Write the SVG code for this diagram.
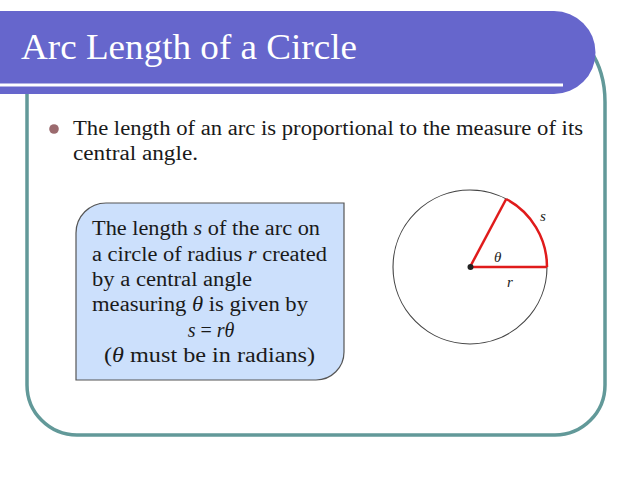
<svg xmlns="http://www.w3.org/2000/svg" width="638" height="478" viewBox="0 0 638 478">
<style>
.txt{font-family:"Liberation Serif","Times New Roman",serif;fill:#1a1a1a;}
.it{font-style:italic;}
.lbl{font-family:"Liberation Serif","Times New Roman",serif;font-style:italic;fill:#222;font-size:15px;}
</style>
<rect width="638" height="478" fill="#ffffff"/>
<g id="frame">
<path d="M 27 60 L 27 385 A 50 50 0 0 0 77 435 L 555 435 A 50 50 0 0 0 605 385 L 605 102 C 605 82 601 66 590 50" fill="none" stroke="#629999" stroke-width="3.5"/>
</g>
<g id="title-bar">
<path d="M 0 11 L 554 11 A 41.5 41.5 0 0 1 554 94 L 0 94 Z" fill="#6666CC"/>
<line x1="0" y1="85" x2="563" y2="85" stroke="#ffffff" stroke-width="3"/>
<text x="21" y="59" font-family="'Liberation Serif','Times New Roman',serif" font-size="35" fill="#ffffff" textLength="336" lengthAdjust="spacingAndGlyphs">Arc Length of a Circle</text>
</g>
<g id="bullet">
<circle cx="54" cy="129" r="4.8" fill="#9B6A6E"/>
<text class="txt" x="73" y="135" font-size="20" textLength="510" lengthAdjust="spacingAndGlyphs">The length of an arc is proportional to the measure of its</text>
<text class="txt" x="73" y="160" font-size="20" textLength="125" lengthAdjust="spacingAndGlyphs">central angle.</text>
</g>
<g id="formula-box">
<path d="M 106 203 L 344 203 L 344 352 A 28 28 0 0 1 316 380 L 76 380 L 76 233 A 30 30 0 0 1 106 203 Z" fill="#CCE0FC" stroke="#555555" stroke-width="1.2"/>
<text class="txt" x="92" y="235" font-size="20" textLength="228" lengthAdjust="spacingAndGlyphs">The length <tspan class="it">s</tspan> of the arc on</text>
<text class="txt" x="92" y="260.5" font-size="20" textLength="235" lengthAdjust="spacingAndGlyphs">a circle of radius <tspan class="it">r</tspan> created</text>
<text class="txt" x="92" y="286" font-size="20" textLength="160" lengthAdjust="spacingAndGlyphs">by a central angle</text>
<text class="txt" x="92" y="311" font-size="20" textLength="216" lengthAdjust="spacingAndGlyphs">measuring <tspan class="it">θ</tspan> is given by</text>
<text class="txt" x="211" y="336.5" font-size="20" text-anchor="middle"><tspan class="it">s</tspan> = <tspan class="it">rθ</tspan></text>
<text class="txt" x="104" y="362" font-size="20" textLength="211" lengthAdjust="spacingAndGlyphs">(<tspan class="it">θ</tspan> must be in radians)</text>
</g>
<g id="circle-figure">
<circle cx="470" cy="267" r="77" fill="none" stroke="#444444" stroke-width="1.1"/>
<path d="M 506.2 199 A 77 77 0 0 1 547 267" fill="none" stroke="#E01B1B" stroke-width="2.5"/>
<line x1="470" y1="267" x2="547" y2="267" stroke="#E01B1B" stroke-width="2.5"/>
<line x1="470" y1="267" x2="506.2" y2="199" stroke="#E01B1B" stroke-width="2.5"/>
<circle cx="470.5" cy="267" r="3" fill="#222222"/>
<text class="lbl" x="540" y="221">s</text>
<text class="lbl" x="494" y="262">θ</text>
<text class="lbl" x="507" y="287">r</text>
</g>
</svg>
